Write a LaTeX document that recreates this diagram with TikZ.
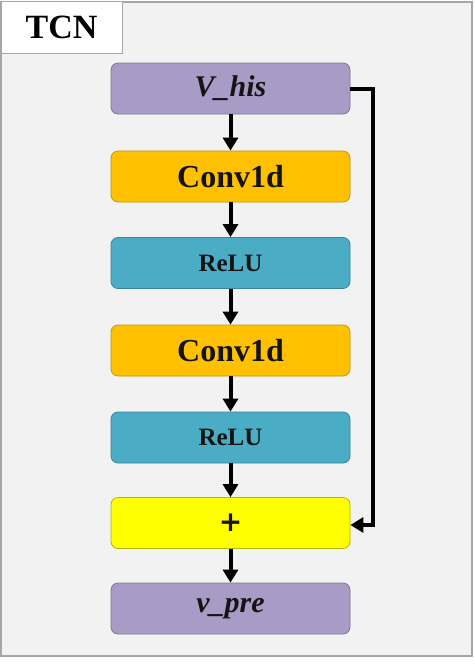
\documentclass[tikz,border=0pt]{standalone}
\usepackage{fontspec}
\setmainfont{Liberation Serif}
\newfontfamily\plusfont{DejaVu Sans}
\usetikzlibrary{arrows.meta}
\definecolor{bgc}{HTML}{F2F2F2}
\definecolor{framec}{HTML}{A6A6A6}
\definecolor{purp}{HTML}{A89CC6}
\definecolor{purpd}{HTML}{7F7499}
\definecolor{orng}{HTML}{FFC000}
\definecolor{orngd}{HTML}{C99700}
\definecolor{teal}{HTML}{4BACC6}
\definecolor{teald}{HTML}{3A8599}
\definecolor{yell}{HTML}{FFFF00}
\definecolor{yelld}{HTML}{B5B500}
\definecolor{txt}{HTML}{141414}
\tikzset{
  blk/.style={draw, line width=0.8pt, rounded corners=7pt, minimum width=239pt, minimum height=51pt, inner sep=0pt, text=txt, font=\bfseries},
  inbox/.style={blk, fill=purp, draw=purpd, font=\bfseries\itshape\fontsize{30}{30}\selectfont},
  convbox/.style={blk, fill=orng, draw=orngd, font=\bfseries\fontsize{32}{32}\selectfont},
  relubox/.style={blk, fill=teal, draw=teald, font=\bfseries\fontsize{25}{25}\selectfont},
  addbox/.style={blk, fill=yell, draw=yelld, font=\plusfont\bfseries\fontsize{28}{28}\selectfont},
  flow/.style={line width=4pt, -{Triangle[length=13pt,width=15pt]}},
}
\begin{document}
\begin{tikzpicture}[x=1pt,y=-1pt]
\useasboundingbox (0,0) rectangle (474,672);
\fill[white] (0,0) rectangle (474,672);
\draw[fill=bgc, draw=framec, line width=1.2pt] (1,2) rectangle (472,656);
\node[draw=framec, fill=white, line width=1.2pt, minimum width=121pt, minimum height=52pt, inner sep=0pt, anchor=north west, font=\bfseries\fontsize{34}{34}\selectfont] (title) at (0.5,1) {TCN};
\node[inbox] (vhis) at (230.5,88.5) {V\_his};
\node[convbox] (c1) at (230.5,176.5) {Conv1d};
\node[relubox] (r1) at (230.5,263) {ReLU};
\node[convbox] (c2) at (230.5,350.5) {Conv1d};
\node[relubox] (r2) at (230.5,437.5) {ReLU};
\node[addbox] (add) at (230.5,523) {+};
\node[inbox] (vpre) at (230.5,608.5) {v\_pre};
\draw[flow] (vhis) -- (c1);
\draw[flow] (c1) -- (r1);
\draw[flow] (r1) -- (c2);
\draw[flow] (c2) -- (r2);
\draw[flow] (r2) -- (add);
\draw[flow] (add) -- (vpre);
\coordinate (k1) at (373,89);
\coordinate (k2) at (373,525);
\draw[flow] (vhis.east |- k1) -- (k1) -- (k2) -- (add.east |- k2);
\end{tikzpicture}
\end{document}
